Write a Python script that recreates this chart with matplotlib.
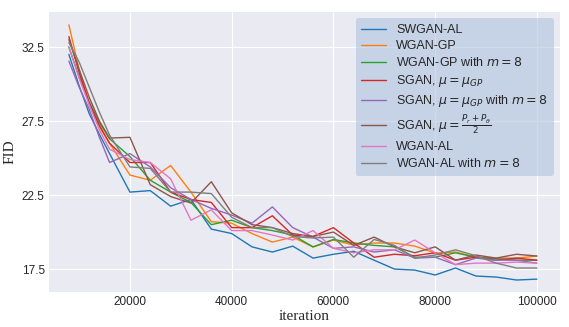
import matplotlib
matplotlib.use('Agg')
import matplotlib.pyplot as plt

plt.style.use('seaborn-v0_8-darkgrid')
plt.rcParams['font.family'] = ['Liberation Sans', 'DejaVu Sans']

# iterations (denser at the start)
iters = [8000, 10000, 12000, 14000, 16000, 20000, 24000, 28000, 32000, 36000,
         40000, 44000, 48000, 52000, 56000, 60000, 64000, 68000, 72000, 76000,
         80000, 84000, 88000, 92000, 96000, 100000]

swgan_al = [32.0, 29.9, 28.0, 26.6, 25.3, 22.7, 22.8, 21.75, 22.2, 20.2,
            19.9, 19.0, 18.65, 19.05, 18.24, 18.5, 18.7, 18.1, 17.5, 17.43,
            17.1, 17.57, 17.03, 16.96, 16.76, 16.82]
wgan_gp = [34.0, 31.0, 28.6, 27.1, 26.0, 23.85, 23.5, 24.5, 22.7, 20.7,
           20.6, 19.9, 19.32, 19.66, 18.99, 19.46, 19.12, 19.26, 19.26, 19.05,
           18.58, 18.65, 18.31, 18.24, 18.24, 18.38]
wgan_gp_m8 = [32.5, 30.5, 28.8, 27.4, 26.3, 25.1, 23.5, 22.7, 22.0, 20.5,
              20.8, 20.3, 20.1, 19.8, 19.0, 19.5, 19.26, 19.1, 19.0, 18.3,
              18.3, 18.6, 18.3, 18.2, 18.1, 18.1]
sgan_gp = [33.2, 30.8, 28.7, 27.2, 26.0, 24.7, 24.7, 22.7, 22.2, 22.0,
           20.3, 20.3, 21.1, 19.8, 19.7, 20.3, 19.26, 18.3, 18.5, 18.4,
           18.6, 18.1, 18.3, 18.1, 18.24, 18.1]
sgan_gp_m8 = [31.55, 29.8, 28.3, 26.4, 24.7, 25.3, 24.4, 23.0, 22.2, 21.6,
              21.15, 20.6, 21.7, 20.3, 19.66, 18.9, 19.0, 18.65, 18.8, 18.24,
              18.3, 17.8, 18.24, 18.1, 18.1, 17.9]
sgan_mix = [33.0, 31.0, 29.1, 27.5, 26.35, 26.4, 23.2, 22.4, 21.96, 23.4,
            21.3, 20.5, 20.3, 19.9, 19.7, 20.0, 19.1, 19.66, 19.0, 18.6,
            19.0, 18.1, 18.45, 18.24, 18.5, 18.38]
wgan_al = [32.5, 30.4, 28.6, 26.9, 25.6, 24.9, 24.7, 23.6, 20.8, 21.5,
           20.1, 20.1, 19.8, 19.46, 20.1, 18.9, 18.6, 18.8, 18.8, 19.46,
           18.6, 17.8, 17.9, 17.9, 17.97, 17.9]
wgan_al_m8 = [32.8, 31.5, 29.8, 28.1, 26.55, 24.4, 24.3, 22.7, 22.7, 22.6,
              21.0, 20.3, 20.3, 19.7, 19.6, 19.66, 18.3, 19.5, 19.1, 18.24,
              18.45, 18.8, 18.4, 17.9, 17.57, 17.57]

series = [swgan_al, wgan_gp, wgan_gp_m8, sgan_gp, sgan_gp_m8, sgan_mix, wgan_al, wgan_al_m8]
labels = ['SWGAN-AL', 'WGAN-GP', r'WGAN-GP with $m=8$', r'SGAN, $\mu=\mu_{GP}$',
          r'SGAN, $\mu=\mu_{GP}$ with $m=8$', r'SGAN, $\mu=\frac{P_r+P_\theta}{2}$',
          'WGAN-AL', r'WGAN-AL with $m=8$']
colors = ['#1f77b4', '#ff7f0e', '#2ca02c', '#d62728', '#9467bd', '#8c564b', '#e377c2', '#7f7f7f']

fig = plt.figure(figsize=(5.69, 3.27), dpi=100)
ax = fig.add_axes([0.086, 0.107, 0.898, 0.856])

for vals, lab, col in zip(series, labels, colors):
    ax.plot(iters, vals, color=col, linewidth=1.0, label=lab)

ax.set_xlim(4080, 104520)
ax.set_ylim(15.95, 34.86)
ax.set_xticks([20000, 40000, 60000, 80000, 100000])
ax.set_yticks([17.5, 22.5, 27.5, 32.5])
ax.tick_params(labelsize=8.5, pad=3)

ax.set_xlabel('iteration', family='Liberation Serif', fontsize=11, labelpad=1)
ax.set_ylabel('FID', family='Liberation Serif', fontsize=11, labelpad=4)

leg = ax.legend(loc='upper right', fontsize=9, frameon=True, facecolor='#b4c8e0',
                framealpha=0.65, edgecolor='none', handlelength=2.0, labelspacing=0.33,
                borderpad=0.45)

fig.savefig('out.png', dpi=100)
